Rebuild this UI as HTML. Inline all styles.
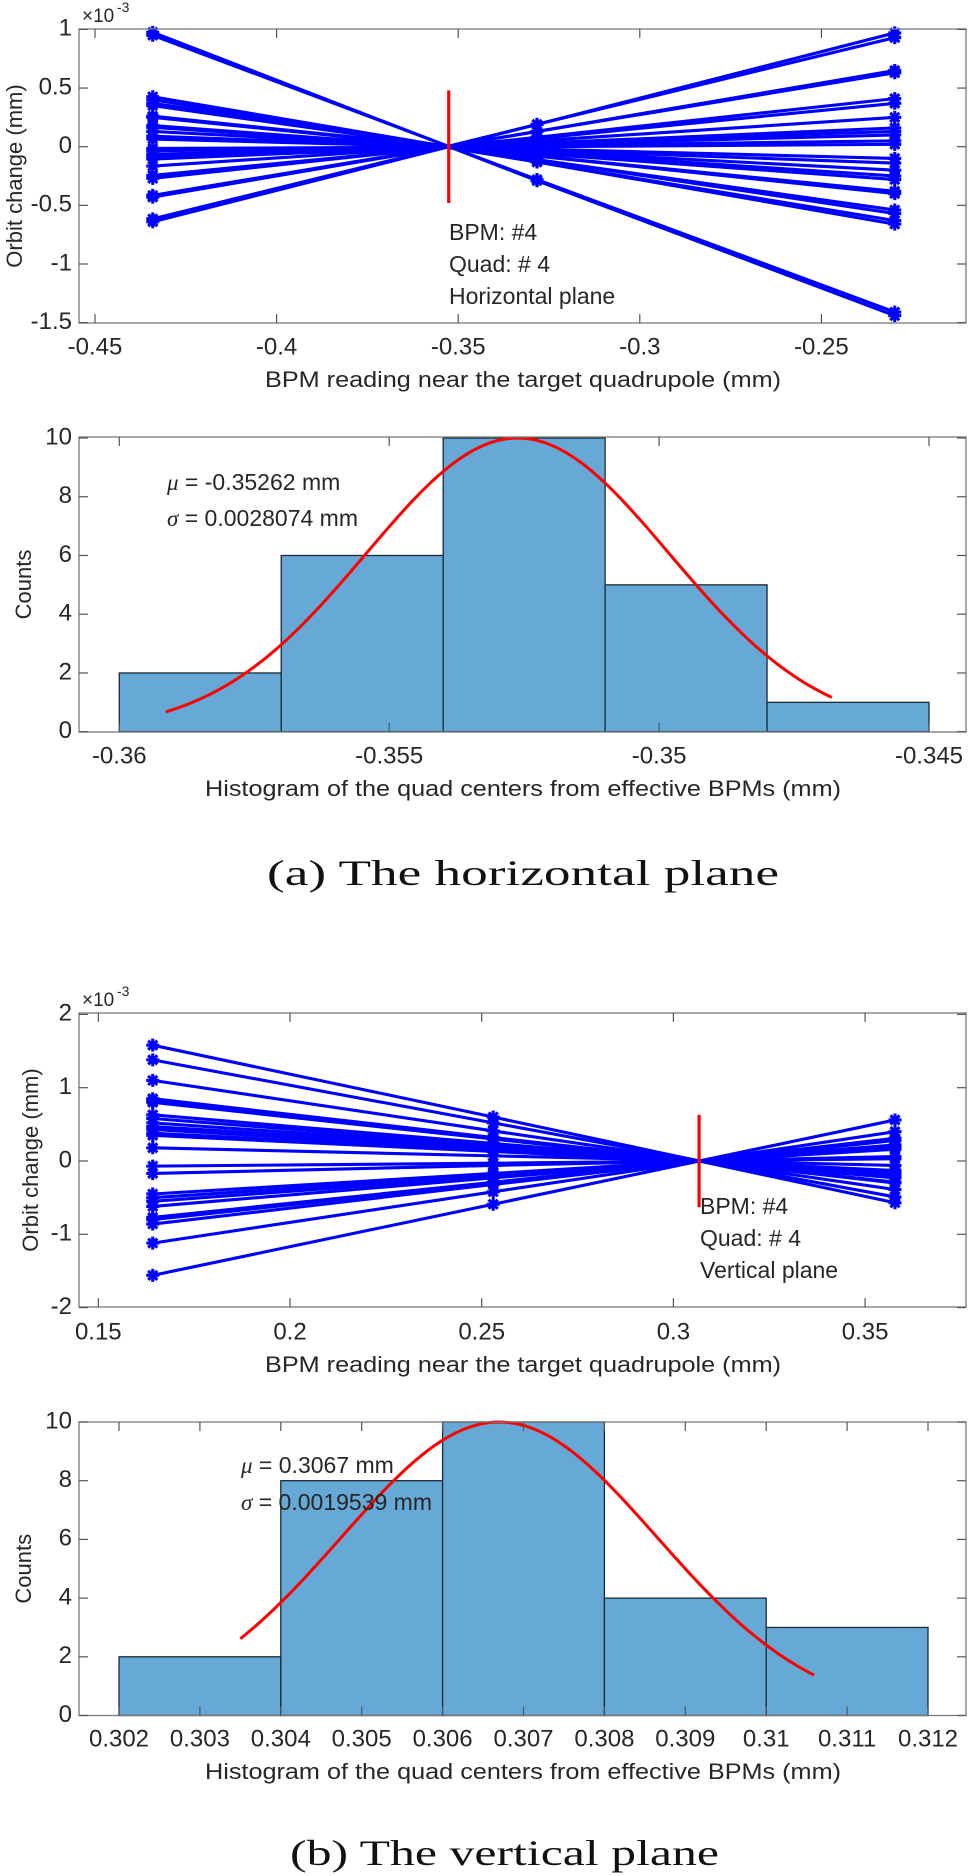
<!DOCTYPE html>
<html><head><meta charset="utf-8"><style>
html,body{margin:0;padding:0;background:#fff}
svg{display:block}
text{font-family:"Liberation Sans",Arial,sans-serif;fill:#262626}
</style></head><body>
<svg id="fig" width="968" height="1876" viewBox="0 0 968 1876" xmlns="http://www.w3.org/2000/svg"></svg>
<script>
// ---- Panel 1 (horizontal orbit change) data, units 1e-3 mm ----
const p1X = [-0.4341, -0.3283, -0.2298];
const p1Left  = [0.975,0.95,0.426,0.40,0.37,0.35,0.26,0.25,0.18,0.165,0.13,0.09,0.065,-0.015,-0.035,-0.065,-0.085,-0.105,-0.165,-0.245,-0.27,-0.415,-0.43,-0.615,-0.64];
const p1Mid   = [-0.29,-0.28,-0.13,-0.13,-0.11,-0.11,-0.08,-0.08,-0.06,-0.05,-0.04,-0.03,-0.02,0.00,0.01,0.02,0.03,0.03,0.05,0.07,0.08,0.13,0.13,0.19,0.19];
const p1Right = [-1.44,-1.41,-0.66,-0.63,-0.57,-0.54,-0.40,-0.38,-0.28,-0.25,-0.20,-0.14,-0.10,0.02,0.05,0.10,0.13,0.16,0.25,0.37,0.41,0.63,0.65,0.93,0.97];
const p1Center = [-0.3526];
const p1XTicks = [-0.45,-0.4,-0.35,-0.3,-0.25];
const p1XTickLabels = ["-0.45","-0.4","-0.35","-0.3","-0.25"];
const p1YTicks = [1,0.5,0,-0.5,-1,-1.5];
const p1YTickLabels = ["1","0.5","0","-0.5","-1","-1.5"];
// ---- Panel 2 (horizontal histogram) ----
const p2Edges = [-0.360,-0.357,-0.354,-0.351,-0.348,-0.345];
const p2Counts = [2,6,10,5,1];
const p2Fit = [-0.35262, 0.0028074, 10, -0.35914, -0.34680]; // mu, sigma, peak, start, end
const p2XTicks = [-0.36,-0.355,-0.35,-0.345];
const p2XTickLabels = ["-0.36","-0.355","-0.35","-0.345"];
const p2YTicks = [0,2,4,6,8,10];
const p2YTickLabels = ["0","2","4","6","8","10"];
// ---- Panel 3 (vertical orbit change) ----
const p3X = [0.1642, 0.253, 0.3578];
const p3Left  = [1.58,1.38,1.10,0.85,0.82,0.80,0.63,0.58,0.52,0.47,0.43,0.38,0.35,0.18,-0.07,-0.17,-0.45,-0.50,-0.55,-0.62,-0.77,-0.80,-0.86,-1.12,-1.56];
const p3Mid   = [0.60,0.52,0.41,0.32,0.31,0.30,0.24,0.22,0.20,0.18,0.16,0.14,0.13,0.07,-0.03,-0.06,-0.17,-0.19,-0.21,-0.23,-0.29,-0.30,-0.32,-0.42,-0.59];
const p3Right = [-0.57,-0.49,-0.39,-0.30,-0.29,-0.29,-0.23,-0.21,-0.19,-0.17,-0.15,-0.14,-0.13,-0.06,0.03,0.06,0.16,0.18,0.20,0.22,0.28,0.29,0.31,0.40,0.56];
const p3Center = [0.3067];
const p3XTicks = [0.15,0.2,0.25,0.3,0.35];
const p3XTickLabels = ["0.15","0.2","0.25","0.3","0.35"];
const p3YTicks = [2,1,0,-1,-2];
const p3YTickLabels = ["2","1","0","-1","-2"];
// ---- Panel 4 (vertical histogram) ----
const p4Edges = [0.302,0.304,0.306,0.308,0.310,0.312];
const p4Counts = [2,8,10,4,3];
const p4Fit = [0.3067, 0.0019539, 10, 0.3035, 0.31059];
const p4XTicks = [0.302,0.303,0.304,0.305,0.306,0.307,0.308,0.309,0.310,0.311,0.312];
const p4XTickLabels = ["0.302","0.303","0.304","0.305","0.306","0.307","0.308","0.309","0.31","0.311","0.312"];
const p4YTicks = [0,2,4,6,8,10];
const p4YTickLabels = ["0","2","4","6","8","10"];

const NS = "http://www.w3.org/2000/svg";
const svg = document.getElementById('fig');
function mk(tag, attrs, parent){
  const e = document.createElementNS(NS, tag);
  for (const k in attrs) e.setAttribute(k, attrs[k]);
  (parent||svg).appendChild(e);
  return e;
}
function txt(s, attrs, parent){ const t = mk('text', attrs, parent); t.textContent = s; return t; }

function axes(name, box, sx, sy, xt, xtl, yt, ytl, tickY, labelY, xlabel, xlabelLen, ylabel, ylabelX){
  const g = mk('g', {});
  
  
  const [x0,y0,x1,y1] = box;
  const frame = mk('rect', {x:x0,y:y0,width:x1-x0,height:y1-y0,fill:'none',stroke:'#7a7a7a','stroke-width':1.3}, g);
  
  
  xt.forEach((v,i)=>{
    const px = sx(v);
    mk('line',{x1:px,y1:y1,x2:px,y2:y1-9,stroke:'#555','stroke-width':1.2},g);
    mk('line',{x1:px,y1:y0,x2:px,y2:y0+9,stroke:'#555','stroke-width':1.2},g);
    const t = txt(xtl[i],{x:px,y:tickY,'font-size':24,'text-anchor':'middle','dominant-baseline':'middle'},g);
    
    
  });
  yt.forEach((v,i)=>{
    const py = sy(v);
    mk('line',{x1:x0,y1:py,x2:x0+9,y2:py,stroke:'#555','stroke-width':1.2},g);
    mk('line',{x1:x1,y1:py,x2:x1-9,y2:py,stroke:'#555','stroke-width':1.2},g);
    const t = txt(ytl[i],{x:x0-7,y:py,'font-size':24,'text-anchor':'end','dominant-baseline':'middle'},g);
    
    
  });
  const xl = txt(xlabel,{x:523,y:labelY,'font-size':22,'text-anchor':'middle','dominant-baseline':'middle',textLength:xlabelLen,lengthAdjust:'spacingAndGlyphs'},g);
  
  
  const cy = (y0+y1)/2;
  const yl = txt(ylabel,{x:ylabelX,y:cy,'font-size':22,'text-anchor':'middle','dominant-baseline':'middle',transform:`rotate(-90 ${ylabelX} ${cy})`},g);
  
  
  return g;
}

function star(g, x, y){
  const r = 6.5;
  const p = mk('path',{d:`M${x-r},${y}H${x+r}M${x},${y-r}V${y+r}M${x-r*0.7},${y-r*0.7}L${x+r*0.7},${y+r*0.7}M${x-r*0.7},${y+r*0.7}L${x+r*0.7},${y-r*0.7}`,stroke:'#0000ff','stroke-width':3.1,fill:'none'},g);
  
  
}

function linesPanel(name, sx, sy, xs, L, M, R){
  const g = mk('g', {});
  
  
  for (let i=0;i<L.length;i++){
    const pts = [[xs[0],L[i]],[xs[1],M[i]],[xs[2],R[i]]].map(p=>[sx(p[0]),sy(p[1])]);
    const pl = mk('polyline',{points:pts.map(p=>p.join(',')).join(' '),fill:'none',stroke:'#0000ff','stroke-width':3.1},g);
    
    
    pts.forEach(p=>star(g,p[0],p[1]));
  }
}

function histPanel(name, sx, sy, edges, counts, fit){
  const g = mk('g', {});
  
  
  counts.forEach((c,i)=>{
    const xa = sx(edges[i]), xb = sx(edges[i+1]);
    const r = mk('rect',{x:xa,y:sy(c),width:xb-xa,height:sy(0)-sy(c),fill:'#66a9d6',stroke:'#1a2a36','stroke-width':1.3},g);
    
    
  });
  const [mu,sg,pk,a,b] = fit;
  let d = '';
  const n = 120;
  for (let k=0;k<=n;k++){
    const v = a + (b-a)*k/n;
    const yv = pk*Math.exp(-0.5*((v-mu)/sg)**2);
    d += (k?'L':'M') + sx(v).toFixed(2) + ',' + sy(yv).toFixed(2);
  }
  const c = mk('path',{d:d,fill:'none',stroke:'#ff0000','stroke-width':3},g);
  
  
}

// scales
const s1x = v => 95 + (v+0.45)*3632, s1y = v => 146.7 - v*117.3;
const s2x = v => 119.3 + (v+0.36)*53980, s2y = v => 731.7 - v*29.37;
const s3x = v => 98.3 + (v-0.15)*3834, s3y = v => 1161 - v*73.3;
const s4x = v => 119 + (v-0.302)*80900, s4y = v => 1715.5 - v*29.35;

// Panel 1
linesPanel('orbit-lines-horizontal', s1x, s1y, p1X, p1Left, p1Mid, p1Right);
let rl = mk('line',{x1:s1x(p1Center[0]),x2:s1x(p1Center[0]),y1:s1y(0.48),y2:s1y(-0.48),stroke:'#ff0000','stroke-width':3.2});


axes('axes-orbit-horizontal',[79,29,966,323],s1x,s1y,p1XTicks,p1XTickLabels,p1YTicks,p1YTickLabels,348,381,'BPM reading near the target quadrupole (mm)',516,'Orbit change (mm)',16);
let t;
t = txt('×10',{x:82,y:22,'font-size':19});  
txt('-3',{x:117,y:12,'font-size':14});
[['BPM:  #4',240],['Quad: # 4',272],['Horizontal plane',304]].forEach(a=>{
  const e = txt(a[0],{x:449,y:a[1],'font-size':23,'xml:space':'preserve'});
  
  
});

// Panel 2
histPanel('histogram-horizontal', s2x, s2y, p2Edges, p2Counts, p2Fit);
axes('axes-hist-horizontal',[79,437,966,732],s2x,s2y,p2XTicks,p2XTickLabels,p2YTicks,p2YTickLabels,757,790,'Histogram of the quad centers from effective BPMs (mm)',636,'Counts',25);
t = txt('',{x:167,y:490,'font-size':23});  
t.innerHTML = '<tspan font-family="Liberation Serif" font-style="italic">μ</tspan> = -0.35262 mm';
t = txt('',{x:167,y:526,'font-size':23});  
t.innerHTML = '<tspan font-family="Liberation Serif" font-style="italic">σ</tspan> = 0.0028074 mm';

// Caption a
t = txt('(a) The horizontal plane',{x:267,y:885,'font-size':36,textLength:512,lengthAdjust:'spacingAndGlyphs',style:'font-family:"Liberation Serif",serif;fill:#111'});
 

// Panel 3
linesPanel('orbit-lines-vertical', s3x, s3y, p3X, p3Left, p3Mid, p3Right);
rl = mk('line',{x1:s3x(p3Center[0]),x2:s3x(p3Center[0]),y1:s3y(0.63),y2:s3y(-0.63),stroke:'#ff0000','stroke-width':3.2});


axes('axes-orbit-vertical',[79,1013,966,1307],s3x,s3y,p3XTicks,p3XTickLabels,p3YTicks,p3YTickLabels,1333,1366,'BPM reading near the target quadrupole (mm)',516,'Orbit change (mm)',32);
t = txt('×10',{x:82,y:1006,'font-size':19});  
txt('-3',{x:117,y:996,'font-size':14});
[['BPM:  #4',1214],['Quad: # 4',1246],['Vertical plane',1278]].forEach(a=>{
  const e = txt(a[0],{x:700,y:a[1],'font-size':23,'xml:space':'preserve'});
  
  
});

// Panel 4
histPanel('histogram-vertical', s4x, s4y, p4Edges, p4Counts, p4Fit);
axes('axes-hist-vertical',[79,1422,966,1715.5],s4x,s4y,p4XTicks,p4XTickLabels,p4YTicks,p4YTickLabels,1740,1773,'Histogram of the quad centers from effective BPMs (mm)',636,'Counts',25);
t = txt('',{x:241,y:1473,'font-size':23});  
t.innerHTML = '<tspan font-family="Liberation Serif" font-style="italic">μ</tspan> = 0.3067 mm';
t = txt('',{x:241,y:1510,'font-size':23});  
t.innerHTML = '<tspan font-family="Liberation Serif" font-style="italic">σ</tspan> = 0.0019539 mm';

// Caption b
t = txt('(b) The vertical plane',{x:290,y:1865,'font-size':36,textLength:429,lengthAdjust:'spacingAndGlyphs',style:'font-family:"Liberation Serif",serif;fill:#111'});
 
</script>
</body></html>
